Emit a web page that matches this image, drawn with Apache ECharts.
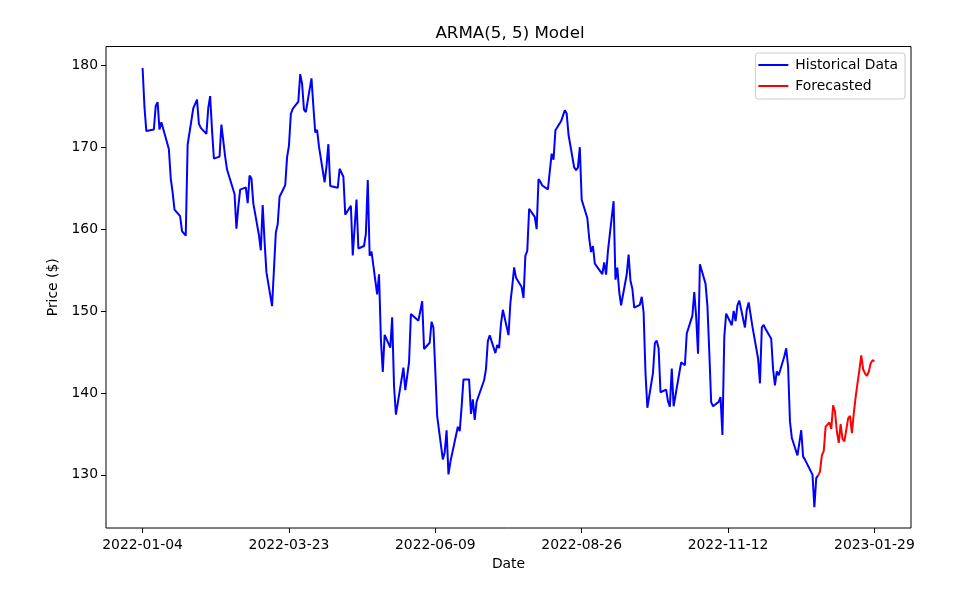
<!DOCTYPE html>
<html>
<head>
<meta charset="utf-8">
<script src="https://cdn.jsdelivr.net/npm/echarts@6/dist/echarts.min.js"></script>
<style>
html,body{margin:0;padding:0;background:#fff;}
#chart{width:961px;height:602px;}
</style>
</head>
<body>
<div id="chart"></div>
<script>
const histDates = [
"2022-01-04","2022-01-05","2022-01-06","2022-01-07","2022-01-10","2022-01-11","2022-01-12","2022-01-13","2022-01-14","2022-01-18","2022-01-19","2022-01-20","2022-01-21","2022-01-24","2022-01-25","2022-01-26","2022-01-27","2022-01-28","2022-01-31",
"2022-02-01","2022-02-02","2022-02-03","2022-02-04","2022-02-07","2022-02-08","2022-02-09","2022-02-10","2022-02-11","2022-02-14","2022-02-15","2022-02-16","2022-02-17","2022-02-18","2022-02-22","2022-02-23","2022-02-24","2022-02-25","2022-02-28",
"2022-03-01","2022-03-02","2022-03-03","2022-03-04","2022-03-07","2022-03-08","2022-03-09","2022-03-10","2022-03-11","2022-03-14","2022-03-15","2022-03-16","2022-03-17","2022-03-18","2022-03-21","2022-03-22","2022-03-23","2022-03-24","2022-03-25","2022-03-28","2022-03-29","2022-03-30","2022-03-31",
"2022-04-01","2022-04-04","2022-04-05","2022-04-06","2022-04-07","2022-04-08","2022-04-11","2022-04-12","2022-04-13","2022-04-14","2022-04-18","2022-04-19","2022-04-20","2022-04-21","2022-04-22","2022-04-25","2022-04-26","2022-04-27","2022-04-28","2022-04-29",
"2022-05-02","2022-05-03","2022-05-04","2022-05-05","2022-05-06","2022-05-09","2022-05-10","2022-05-11","2022-05-12","2022-05-13","2022-05-16","2022-05-17","2022-05-18","2022-05-19","2022-05-20","2022-05-23","2022-05-24","2022-05-25","2022-05-26","2022-05-27","2022-05-31",
"2022-06-01","2022-06-02","2022-06-03","2022-06-06","2022-06-07","2022-06-08","2022-06-09","2022-06-10","2022-06-13","2022-06-14","2022-06-15","2022-06-16","2022-06-17","2022-06-21","2022-06-22","2022-06-23","2022-06-24","2022-06-27","2022-06-28","2022-06-29","2022-06-30",
"2022-07-01","2022-07-05","2022-07-06","2022-07-07","2022-07-08","2022-07-11","2022-07-12","2022-07-13","2022-07-14","2022-07-15","2022-07-18","2022-07-19","2022-07-20","2022-07-21","2022-07-22","2022-07-25","2022-07-26","2022-07-27","2022-07-28","2022-07-29",
"2022-08-01","2022-08-02","2022-08-03","2022-08-04","2022-08-05","2022-08-08","2022-08-09","2022-08-10","2022-08-11","2022-08-12","2022-08-15","2022-08-16","2022-08-17","2022-08-18","2022-08-19","2022-08-22","2022-08-23","2022-08-24","2022-08-25","2022-08-26","2022-08-29","2022-08-30","2022-08-31",
"2022-09-01","2022-09-02","2022-09-06","2022-09-07","2022-09-08","2022-09-09","2022-09-12","2022-09-13","2022-09-14","2022-09-15","2022-09-16","2022-09-19","2022-09-20","2022-09-21","2022-09-22","2022-09-23","2022-09-26","2022-09-27","2022-09-28","2022-09-29","2022-09-30",
"2022-10-03","2022-10-04","2022-10-05","2022-10-06","2022-10-07","2022-10-10","2022-10-11","2022-10-12","2022-10-13","2022-10-14","2022-10-17","2022-10-18","2022-10-19","2022-10-20","2022-10-21","2022-10-24","2022-10-25","2022-10-26","2022-10-27","2022-10-28","2022-10-31",
"2022-11-01","2022-11-02","2022-11-03","2022-11-04","2022-11-07","2022-11-08","2022-11-09","2022-11-10","2022-11-11","2022-11-14","2022-11-15","2022-11-16","2022-11-17","2022-11-18","2022-11-21","2022-11-22","2022-11-23","2022-11-25","2022-11-28","2022-11-29","2022-11-30",
"2022-12-01","2022-12-02","2022-12-05","2022-12-06","2022-12-07","2022-12-08","2022-12-09","2022-12-12","2022-12-13","2022-12-14","2022-12-15","2022-12-16","2022-12-19","2022-12-20","2022-12-21","2022-12-22","2022-12-23","2022-12-27","2022-12-28","2022-12-29","2022-12-30"
];
const histValues = [
179.70,174.92,172.00,172.17,172.19,175.08,175.53,172.19,173.07,169.80,166.23,164.51,162.41,161.62,159.78,159.69,159.22,170.33,174.78,
174.61,175.84,172.90,172.39,171.66,174.83,176.28,172.12,168.64,168.88,172.79,172.55,168.88,167.30,164.32,160.07,162.74,164.85,165.12,
163.20,166.56,166.23,163.17,159.30,157.44,162.95,158.52,154.73,150.62,155.09,159.59,160.62,163.98,165.38,168.82,170.21,174.07,174.72,175.60,178.96,177.77,174.61,
174.31,178.44,175.06,171.83,172.14,170.09,165.75,167.66,170.40,165.29,165.07,167.40,167.23,166.42,161.79,162.88,156.80,156.57,163.64,157.65,
157.96,159.48,166.02,156.77,157.28,152.06,154.51,146.50,142.56,147.11,145.54,149.24,140.82,137.35,137.59,143.11,140.36,140.52,143.78,149.64,148.84,
148.71,151.21,145.38,146.14,148.71,147.96,142.64,137.13,131.88,132.76,135.43,130.06,131.56,135.87,135.35,138.27,141.66,141.66,137.44,139.23,136.72,
138.93,141.56,142.92,146.35,147.04,144.87,145.86,145.49,148.47,150.17,147.07,151.00,153.04,155.35,154.09,152.95,151.60,156.79,157.35,162.51,
161.51,160.01,166.13,165.81,165.35,164.87,164.92,169.24,168.49,172.10,173.19,173.03,174.55,174.15,171.52,167.57,167.23,167.53,170.03,163.62,161.38,158.91,157.22,
157.96,155.81,154.53,155.96,154.46,157.37,163.43,153.84,155.31,152.37,150.70,154.48,156.90,153.72,152.74,150.43,150.77,151.76,149.84,142.48,138.20,
142.45,146.10,146.40,145.43,140.09,140.42,138.98,138.34,142.99,138.38,142.41,143.75,143.86,143.39,147.27,149.45,152.34,149.35,144.80,155.74,153.34,
150.65,145.03,138.88,138.38,138.92,139.50,134.87,146.87,149.70,148.28,150.04,148.79,150.72,151.29,148.01,150.18,151.07,148.11,144.22,141.17,148.03,
148.31,147.81,146.63,142.91,140.94,142.65,142.16,144.49,145.47,143.21,136.50,134.51,132.37,132.30,135.45,132.23,131.86,130.03,126.04,129.61,129.93
];
const forecastStart = "2022-12-30";
const forecastValues = [
129.9,130.4,132.4,132.9,135.9,135.7,136.4,135.6,138.5,137.7,135.3,133.9,136.2,134.4,134.1,133.9,
136.9,137.2,135.1,137.5,139.5,141.2,142.8,144.6,142.9,142.4,142.1,142.6,143.6,144.0,143.9
];
const xTickLabels = ["2022-01-04","2022-03-23","2022-06-09","2022-08-26","2022-11-12","2023-01-29"];
const yTickLabels = [130,140,150,160,170,180];

const DAY = 86400000;
function toMs(s){ const p = s.split('-'); return Date.UTC(+p[0], +p[1]-1, +p[2]); }
function fmt(ms){
  const d = new Date(ms);
  const mm = String(d.getUTCMonth()+1).padStart(2,'0');
  const dd = String(d.getUTCDate()).padStart(2,'0');
  return d.getUTCFullYear()+'-'+mm+'-'+dd;
}
const histData = histDates.map((d,i)=>[toMs(d), histValues[i]]);
const fStart = toMs(forecastStart);
const foreData = forecastValues.map((v,i)=>[fStart + i*DAY, v]);
const allX = histData.concat(foreData).map(p=>p[0]);
const allY = histValues.concat(forecastValues);
const xMinD = Math.min(...allX), xMaxD = Math.max(...allX);
const yMinD = Math.min(...allY), yMaxD = Math.max(...allY);
const xPad = (xMaxD - xMinD)*0.05, yPad = (yMaxD - yMinD)*0.05;
const xTicks = xTickLabels.map(toMs);

const FONT = 'DejaVu Sans';
const chart = echarts.init(document.getElementById('chart'), null, {renderer:'canvas'});
chart.setOption({
  animation:false,
  backgroundColor:'#ffffff',
  textStyle:{fontFamily:FONT},
  title:{
    text:'ARMA(5, 5) Model',
    left:505, top:20, textAlign:'center',
    textStyle:{fontFamily:FONT, fontSize:16.7, fontWeight:'normal', color:'#000'}
  },
  grid:{left:106, right:50, top:46.5, bottom:74, show:true, borderColor:'#000', borderWidth:1, backgroundColor:'transparent'},
  legend:{
    orient:'vertical', right:56, top:53,
    backgroundColor:'rgba(255,255,255,0.8)', borderColor:'#cccccc', borderWidth:1, borderRadius:3,
    padding:[5,7,6,3], itemGap:7, itemWidth:30, itemHeight:2, icon:'rect',
    textStyle:{fontFamily:FONT, fontSize:13.9, color:'#000', padding:[0,0,0,2]},
    data:[{name:'Historical Data', icon:'rect', itemStyle:{color:'#0000ff'}},{name:'Forecasted', icon:'rect', itemStyle:{color:'#ff0000'}}]
  },
  xAxis:{
    type:'value', min:xMinD - xPad, max:xMaxD + xPad,
    name:'Date', nameLocation:'middle', nameGap:29,
    nameTextStyle:{fontFamily:FONT, fontSize:13.9, color:'#000'},
    axisLine:{show:false},
    splitLine:{show:false},
    axisTick:{show:true, inside:false, length:5, lineStyle:{color:'#000', width:1}, customValues:xTicks},
    axisLabel:{color:'#000', fontFamily:FONT, fontSize:13.9, margin:10, customValues:xTicks, formatter:(v)=>fmt(v)}
  },
  yAxis:{
    type:'value', min:yMinD - yPad + 0.15, max:yMaxD + yPad - 0.05,
    name:'Price ($)', nameLocation:'middle', nameGap:40, nameRotate:90,
    nameTextStyle:{fontFamily:FONT, fontSize:13.9, color:'#000'},
    axisLine:{show:false},
    splitLine:{show:false},
    axisTick:{show:true, inside:false, length:5, lineStyle:{color:'#000', width:1}, customValues:yTickLabels},
    axisLabel:{color:'#000', fontFamily:FONT, fontSize:13.9, margin:8, customValues:yTickLabels}
  },
  series:[
    {name:'Historical Data', type:'line', data:histData, symbol:'none', showSymbol:false,
     lineStyle:{color:'#0000ff', width:2}, itemStyle:{color:'#0000ff'}, z:2},
    {name:'Forecasted', type:'line', data:foreData, symbol:'none', showSymbol:false,
     lineStyle:{color:'#ff0000', width:2}, itemStyle:{color:'#ff0000'}, z:3}
  ]
});
</script>
</body>
</html>
